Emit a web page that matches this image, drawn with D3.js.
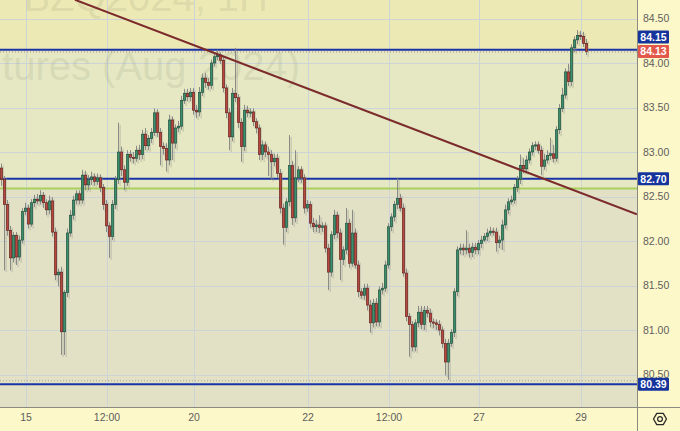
<!DOCTYPE html>
<html>
<head>
<meta charset="utf-8">
<script src="https://cdn.jsdelivr.net/npm/d3@7"></script>
<style>
  body { margin: 0; background: #fff; }
  svg { display: block; }
  text { font-family: "Liberation Sans", Arial, sans-serif; }
</style>
</head>
<body>
<svg width="680" height="431"></svg>
<script>
// hourly candles
const opens = [
  82.82, 82.69, 82.41, 82.12, 81.81, 82.06, 81.82, 82.01, 82.33, 82.37,
  82.19, 82.43, 82.47, 82.45, 82.51, 82.43, 82.35, 82.45, 82.10, 81.62,
  81.65, 80.98, 81.42, 82.09, 82.29, 82.46, 82.53, 82.46, 82.74, 82.63,
  82.69, 82.72, 82.67, 82.71, 82.60, 82.41, 82.17, 82.05, 82.41, 82.69,
  83.00, 82.80, 82.66, 82.97, 82.94, 82.93, 83.02, 82.97, 83.20, 83.07,
  83.15, 83.22, 83.44, 83.22, 83.06, 83.04, 82.91, 83.36, 83.10, 83.27,
  83.29, 83.58, 83.66, 83.62, 83.67, 83.47, 83.45, 83.67, 83.83, 83.78,
  83.75, 84.00, 84.07, 84.09, 84.03, 83.72, 83.44, 83.17, 83.66, 83.61,
  83.33, 83.06, 83.47, 83.44, 83.45, 83.34, 83.27, 82.97, 83.08, 83.00,
  82.97, 82.89, 82.93, 82.76, 82.37, 82.15, 82.44, 82.85, 82.26, 82.71,
  82.80, 82.71, 82.37, 82.41, 82.20, 82.16, 82.18, 82.15, 82.17, 81.92,
  81.65, 82.07, 82.29, 82.09, 81.79, 81.90, 82.20, 81.75, 82.09, 81.73,
  81.43, 81.39, 81.47, 81.28, 81.08, 81.30, 81.09, 81.45, 81.47, 81.73,
  82.16, 82.27, 82.41, 82.48, 82.37, 81.64, 81.15, 81.06, 80.81, 81.08,
  81.20, 81.06, 81.22, 81.19, 81.09, 81.08, 81.06, 81.00, 80.85, 80.64,
  80.85, 80.97, 81.43, 81.90, 81.92, 81.90, 81.92, 81.87, 81.93, 81.90,
  81.97, 82.01, 82.05, 82.09, 82.11, 82.10, 81.98, 82.01, 82.18, 82.35,
  82.44, 82.46, 82.60, 82.69, 82.85, 82.81, 82.91, 83.00, 83.07, 83.08,
  83.02, 82.84, 82.91, 82.96, 82.98, 82.93, 83.25, 83.49, 83.64, 83.90,
  83.79, 84.17, 84.26, 84.31, 84.30, 84.22
];
const highs = [
  82.87, 82.73, 82.46, 82.17, 82.10, 82.10, 82.06, 82.37, 82.43, 82.41,
  82.47, 82.52, 82.53, 82.57, 82.55, 82.47, 82.51, 82.49, 82.15, 81.69,
  81.71, 81.45, 82.14, 82.35, 82.51, 82.57, 82.57, 82.80, 82.79, 82.74,
  82.78, 82.76, 82.76, 82.75, 82.64, 82.46, 82.21, 82.46, 82.73, 83.33,
  83.06, 82.85, 83.02, 83.02, 83.00, 83.07, 83.08, 83.25, 83.27, 83.19,
  83.27, 83.49, 83.48, 83.27, 83.11, 83.10, 83.42, 83.40, 83.31, 83.35,
  83.63, 83.71, 83.71, 83.72, 83.72, 83.53, 83.73, 83.88, 83.89, 83.83,
  84.04, 84.11, 84.15, 84.12, 84.08, 83.76, 83.49, 83.72, 84.17, 83.65,
  83.38, 83.53, 83.52, 83.49, 83.49, 83.38, 83.31, 83.13, 83.12, 83.06,
  83.02, 82.98, 82.98, 82.81, 82.42, 82.48, 83.19, 82.90, 83.02, 82.84,
  82.84, 82.75, 82.46, 82.45, 82.26, 82.24, 82.29, 82.21, 82.21, 81.97,
  82.11, 82.35, 82.33, 82.14, 81.94, 82.37, 82.25, 82.35, 82.14, 81.78,
  81.47, 81.52, 81.52, 81.34, 81.35, 81.36, 81.49, 81.53, 81.78, 82.20,
  82.31, 82.45, 82.71, 82.53, 82.42, 81.69, 81.19, 81.10, 81.12, 81.27,
  81.27, 81.27, 81.27, 81.24, 81.13, 81.12, 81.11, 81.04, 80.90, 80.90,
  81.01, 81.47, 81.94, 81.97, 81.97, 82.12, 81.97, 81.98, 81.98, 82.01,
  82.06, 82.09, 82.14, 82.16, 82.15, 82.15, 82.06, 82.24, 82.41, 82.48,
  82.51, 82.64, 82.73, 82.97, 82.93, 82.96, 83.04, 83.11, 83.12, 83.12,
  83.07, 82.98, 83.02, 83.16, 83.08, 83.29, 83.54, 83.72, 83.94, 83.99,
  84.21, 84.30, 84.37, 84.36, 84.35, 84.27
];
const lows = [
  82.62, 81.67, 82.06, 81.67, 81.76, 81.73, 81.78, 81.97, 82.29, 82.14,
  82.16, 82.38, 82.41, 82.41, 82.37, 82.29, 82.30, 82.05, 81.56, 81.49,
  80.72, 80.72, 81.37, 82.05, 82.24, 82.41, 82.41, 82.42, 82.57, 82.57,
  82.63, 82.62, 82.63, 82.55, 82.35, 82.10, 81.81, 82.01, 82.36, 82.64,
  82.73, 82.57, 82.62, 82.89, 82.87, 82.89, 82.91, 82.92, 83.02, 83.02,
  83.10, 83.18, 83.17, 82.85, 82.97, 82.78, 82.85, 82.91, 83.04, 83.22,
  83.25, 83.54, 83.57, 83.57, 83.42, 83.38, 83.40, 83.63, 83.72, 83.70,
  83.71, 83.96, 84.03, 83.99, 83.67, 83.38, 83.02, 83.12, 83.56, 83.27,
  82.89, 83.01, 83.39, 83.39, 83.29, 83.21, 82.91, 82.91, 82.94, 82.73,
  82.69, 82.84, 82.71, 82.31, 81.96, 82.10, 82.39, 82.18, 82.21, 82.66,
  82.65, 82.31, 82.33, 82.15, 82.10, 82.10, 82.09, 82.10, 81.87, 81.45,
  81.60, 82.02, 82.03, 81.56, 81.73, 81.85, 81.70, 81.71, 81.69, 81.37,
  81.35, 81.34, 81.22, 80.97, 81.03, 81.04, 81.04, 81.40, 81.43, 81.69,
  82.11, 82.22, 82.36, 82.33, 81.60, 81.10, 80.70, 80.76, 80.76, 81.03,
  81.01, 81.00, 81.14, 81.03, 81.02, 81.00, 80.94, 80.80, 80.49, 80.44,
  80.81, 80.92, 81.38, 81.85, 81.84, 81.85, 81.81, 81.82, 81.85, 81.85,
  81.92, 81.99, 82.00, 82.06, 82.06, 81.88, 81.92, 81.90, 82.14, 82.30,
  82.41, 82.42, 82.55, 82.64, 82.76, 82.76, 82.87, 82.96, 83.02, 82.98,
  82.74, 82.80, 82.87, 82.91, 82.88, 82.89, 83.20, 83.45, 83.60, 83.74,
  83.74, 84.12, 84.21, 84.26, 84.18, 84.09
];
const closes = [
  82.69, 82.41, 82.12, 81.81, 82.06, 81.82, 82.01, 82.33, 82.37, 82.19,
  82.43, 82.47, 82.45, 82.51, 82.43, 82.35, 82.45, 82.10, 81.62, 81.65,
  80.98, 81.42, 82.09, 82.29, 82.46, 82.53, 82.46, 82.74, 82.63, 82.69,
  82.72, 82.67, 82.71, 82.60, 82.41, 82.17, 82.05, 82.41, 82.69, 83.00,
  82.80, 82.66, 82.97, 82.94, 82.93, 83.02, 82.97, 83.20, 83.07, 83.15,
  83.22, 83.44, 83.22, 83.06, 83.04, 82.91, 83.36, 83.10, 83.27, 83.29,
  83.58, 83.66, 83.62, 83.67, 83.47, 83.45, 83.67, 83.83, 83.78, 83.75,
  84.00, 84.07, 84.09, 84.03, 83.72, 83.44, 83.17, 83.66, 83.61, 83.33,
  83.06, 83.47, 83.44, 83.45, 83.34, 83.27, 82.97, 83.08, 83.00, 82.97,
  82.89, 82.93, 82.76, 82.37, 82.15, 82.44, 82.85, 82.26, 82.71, 82.80,
  82.71, 82.37, 82.41, 82.20, 82.16, 82.18, 82.15, 82.17, 81.92, 81.65,
  82.07, 82.29, 82.09, 81.79, 81.90, 82.20, 81.75, 82.09, 81.73, 81.43,
  81.39, 81.47, 81.28, 81.08, 81.30, 81.09, 81.45, 81.47, 81.73, 82.16,
  82.27, 82.41, 82.48, 82.37, 81.64, 81.15, 81.06, 80.81, 81.08, 81.20,
  81.06, 81.22, 81.19, 81.09, 81.08, 81.06, 81.00, 80.85, 80.64, 80.85,
  80.97, 81.43, 81.90, 81.92, 81.90, 81.92, 81.87, 81.93, 81.90, 81.97,
  82.01, 82.05, 82.09, 82.11, 82.10, 81.98, 82.01, 82.18, 82.35, 82.44,
  82.46, 82.60, 82.69, 82.85, 82.81, 82.91, 83.00, 83.07, 83.08, 83.02,
  82.84, 82.91, 82.96, 82.98, 82.93, 83.25, 83.49, 83.64, 83.90, 83.79,
  84.17, 84.26, 84.31, 84.30, 84.22, 84.13
];

const timeTicks = [8, 35, 64, 102, 129, 159, 193];
const timeLabels = ["15", "12:00", "20", "22", "12:00", "27", "29"];
const priceTicks = [80.5, 81, 81.5, 82, 82.5, 83, 83.5, 84, 84.5];

const levels = [84.15, 82.70, 80.39];   // blue horizontal levels
const greenLevel = 82.59;
const lastPrice = 84.13;
const dottedLow = 80.43;
const trendLine = [[24.5, 84.71], [211.8, 82.30]];  // [candle index, price]

const W = 680, H = 431;
const plotW = 637, plotH = 407;

const svg = d3.select('svg');

const x = d3.scaleLinear().domain([0, closes.length - 1]).range([1.5, 586.5]);
const y = d3.scaleLinear().domain([84.5, 80.5]).range([18.5, 374.5]);

// axis panels
svg.append('rect').attr('width', W).attr('height', H).attr('fill', '#fdf8c9');

const plot = svg.append('g');
svg.append('clipPath').attr('id', 'clip')
  .append('rect').attr('width', plotW).attr('height', plotH);
plot.attr('clip-path', 'url(#clip)');

// background zones
plot.append('rect').attr('x', 0).attr('y', 0).attr('width', plotW)
  .attr('height', y(levels[0])).attr('fill', '#ede9b4');
plot.append('rect').attr('x', 0).attr('y', y(levels[0])).attr('width', plotW)
  .attr('height', y(greenLevel) - y(levels[0])).attr('fill', '#e5e8c2');
plot.append('rect').attr('x', 0).attr('y', y(greenLevel)).attr('width', plotW)
  .attr('height', plotH - y(greenLevel)).attr('fill', '#e2e1c5');

// grid
plot.selectAll('.hgrid').data(priceTicks).join('line')
  .attr('x1', 0).attr('x2', plotW)
  .attr('y1', d => Math.round(y(d)) + 0.5).attr('y2', d => Math.round(y(d)) + 0.5)
  .attr('stroke', '#cdd4d6').attr('stroke-width', 1);
plot.selectAll('.vgrid').data(timeTicks).join('line')
  .attr('y1', 0).attr('y2', plotH)
  .attr('x1', d => Math.round(x(d)) + 0.5).attr('x2', d => Math.round(x(d)) + 0.5)
  .attr('stroke', '#cdd4d6').attr('stroke-width', 1);

// watermark (chart is scrolled, so it runs off the top and left)
plot.append('text').attr('x', 268).attr('y', 11).attr('text-anchor', 'end')
  .attr('font-size', 40).attr('fill', '#7a7a6a').attr('fill-opacity', 0.15)
  .text('BZQ2024, 1H');
plot.append('text').attr('x', 300).attr('y', 80).attr('text-anchor', 'end')
  .attr('font-size', 40).attr('fill', '#7a7a6a').attr('fill-opacity', 0.15)
  .text('Brent Crude Oil Futures (Aug 2024)');

// level lines
plot.append('line').attr('x1', 0).attr('x2', plotW)
  .attr('y1', y(greenLevel)).attr('y2', y(greenLevel))
  .attr('stroke', '#a9cf5e').attr('stroke-width', 2);
plot.append('line').attr('x1', 0).attr('x2', plotW)
  .attr('y1', y(dottedLow)).attr('y2', y(dottedLow))
  .attr('stroke', '#a9a99a').attr('stroke-dasharray', '1,2');
plot.selectAll('.level').data(levels).join('line')
  .attr('x1', 0).attr('x2', plotW)
  .attr('y1', d => y(d)).attr('y2', d => y(d))
  .attr('stroke', '#1a33a6').attr('stroke-width', 2);
plot.append('line').attr('x1', 0).attr('x2', plotW)
  .attr('y1', y(lastPrice) + 0.5).attr('y2', y(lastPrice) + 0.5)
  .attr('stroke', '#b08a70').attr('stroke-dasharray', '1,2');

// candles
const candles = d3.range(closes.length).map(i => ({
  i, o: opens[i], h: highs[i], l: lows[i], c: closes[i]
}));
const bw = 2.4;

const g = plot.append('g');
// soft shadow to the right of each candle
g.selectAll('.shadow').data(candles).join('line')
  .attr('x1', d => x(d.i) + 1.6).attr('x2', d => x(d.i) + 1.6)
  .attr('y1', d => y(d.h) + 2).attr('y2', d => y(d.l) + 2)
  .attr('stroke', '#9a9a90').attr('stroke-opacity', 0.45).attr('stroke-width', 1.2);
g.selectAll('.wick').data(candles).join('line')
  .attr('x1', d => x(d.i)).attr('x2', d => x(d.i))
  .attr('y1', d => y(d.h)).attr('y2', d => y(d.l))
  .attr('stroke', '#808080').attr('stroke-width', 0.9);
g.selectAll('.body').data(candles).join('rect')
  .attr('x', d => x(d.i) - bw / 2)
  .attr('width', bw)
  .attr('y', d => y(Math.max(d.o, d.c)))
  .attr('height', d => Math.max(1.2, Math.abs(y(d.o) - y(d.c))))
  .attr('fill', d => d.c >= d.o ? '#3b8f6c' : '#b8473d')
  .attr('stroke', d => d.c >= d.o ? '#1e4a3a' : '#5c2220')
  .attr('stroke-width', 0.6);

// trend line
plot.append('line')
  .attr('x1', x(trendLine[0][0])).attr('y1', y(trendLine[0][1]))
  .attr('x2', x(trendLine[1][0])).attr('y2', y(trendLine[1][1]))
  .attr('stroke', '#7b2b2b').attr('stroke-width', 2);

// axes frame
svg.append('line').attr('x1', plotW + 0.5).attr('x2', plotW + 0.5)
  .attr('y1', 0).attr('y2', H).attr('stroke', '#8a8a80');
svg.append('line').attr('x1', 0).attr('x2', W)
  .attr('y1', plotH + 0.5).attr('y2', plotH + 0.5).attr('stroke', '#8a8a80');

const yAxis = svg.append('g').attr('transform', `translate(${plotW},0)`)
  .call(d3.axisRight(y).tickValues(priceTicks).tickFormat(d3.format('.2f'))
    .tickSize(0).tickPadding(6));
yAxis.select('.domain').remove();
yAxis.selectAll('text').attr('font-size', 10.5).attr('fill', '#5e5e5e')
  .attr('font-family', '"Liberation Sans", Arial, sans-serif');

const xAxis = svg.append('g').attr('transform', `translate(0,${plotH})`)
  .call(d3.axisBottom(x).tickValues(timeTicks).tickFormat((d, i) => timeLabels[i])
    .tickSize(0).tickPadding(7));
xAxis.select('.domain').remove();
xAxis.selectAll('text').attr('font-size', 10.5).attr('fill', '#5e5e5e')
  .attr('font-family', '"Liberation Sans", Arial, sans-serif');

// price tags on the axis
const boxH = 13;
const tags = [
  { v: lastPrice, fill: '#e2584a', cy: y(lastPrice) },
  { v: levels[0], fill: '#15349c', cy: y(levels[0]) },
  { v: levels[1], fill: '#15349c', cy: y(levels[1]) },
  { v: levels[2], fill: '#15349c', cy: y(levels[2]) }
];
// push the 84.15 tag above the last-price tag when they collide
if (Math.abs(tags[1].cy - tags[0].cy) < boxH + 1) tags[1].cy = tags[0].cy - boxH - 1.5;

const tg = svg.selectAll('.tag').data(tags).join('g')
  .attr('transform', d => `translate(${plotW + 1},${d.cy})`);
tg.append('rect').attr('x', 0).attr('y', -boxH / 2).attr('width', 31).attr('height', boxH)
  .attr('rx', 1).attr('fill', d => d.fill);
tg.append('text').attr('x', 15.5).attr('y', 4).attr('text-anchor', 'middle')
  .attr('font-size', 10.5).attr('font-weight', 'bold').attr('fill', '#fff')
  .text(d => d.v.toFixed(2));

// settings icon
const icon = svg.append('g').attr('transform', `translate(660,419)`);
const hex = d3.range(6).map(k => {
  const a = Math.PI / 3 * k;
  return [6.5 * Math.cos(a), 6.5 * Math.sin(a)];
});
icon.append('path').attr('d', d3.line()(hex) + 'Z')
  .attr('fill', 'none').attr('stroke', '#2a2a2a').attr('stroke-width', 1.3)
  .attr('stroke-linejoin', 'round');
icon.append('circle').attr('r', 2.4).attr('fill', 'none')
  .attr('stroke', '#2a2a2a').attr('stroke-width', 1.3);
</script>
</body>
</html>
